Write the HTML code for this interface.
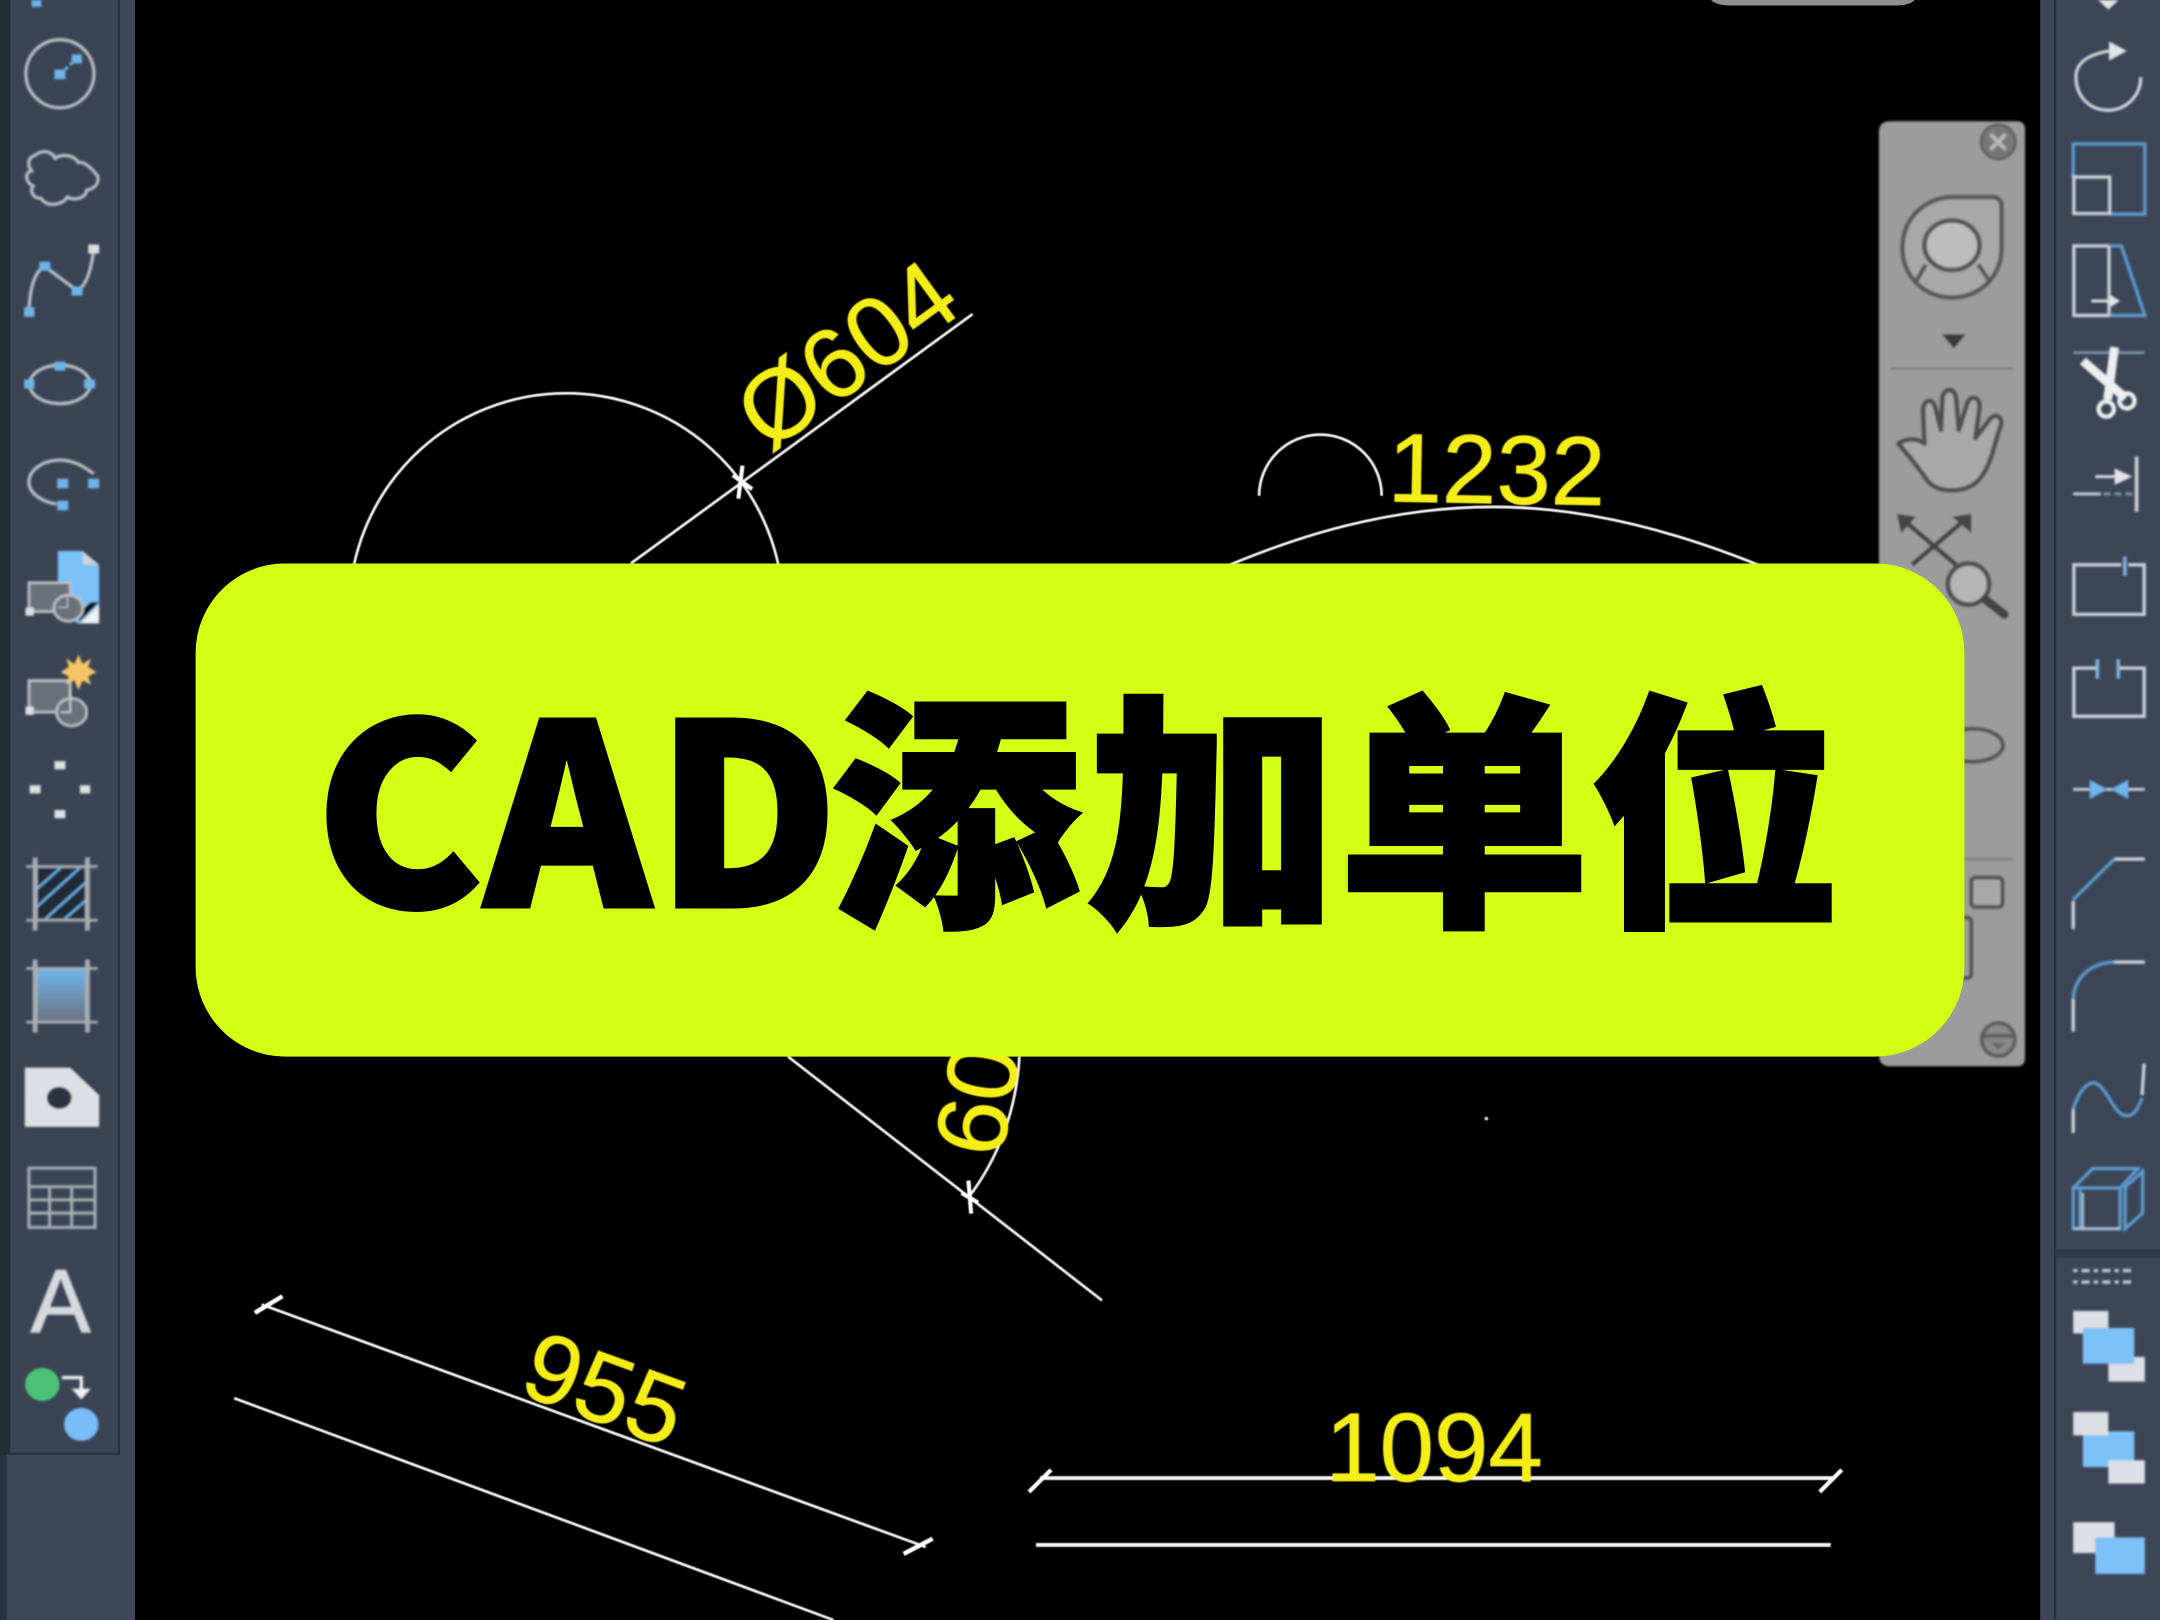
<!DOCTYPE html>
<html lang="zh">
<head>
<meta charset="utf-8">
<title>CAD添加单位</title>
<style>
html,body{margin:0;padding:0;background:#000;width:2160px;height:1620px;overflow:hidden}
svg{display:block;position:absolute;left:0;top:0}
.t{font-family:"Liberation Sans",Arial,sans-serif;font-size:71px;fill:#f4ee12;stroke:#f4ee12;stroke-width:.5}
.w{stroke:#f2f2f2;fill:none;stroke-width:2}
.ic{stroke:#b9bdc3;fill:none;stroke-width:2.4}
.bl{fill:#6eb4ea}
.gr{fill:#dcdfe3}
.lb{fill:#7cc0f8}
.blue{stroke:#5c9bd0;fill:none;stroke-width:2.4}
.wh{stroke:#cfd3d8;fill:none;stroke-width:2.4}
.nv{stroke:#555;fill:none;stroke-width:3}
</style>
</head>
<body>
<svg width="2160" height="1620" viewBox="0 0 1568 1176" xmlns="http://www.w3.org/2000/svg">
<defs>
<linearGradient id="g1" x1="0" y1="0" x2="0" y2="1"><stop offset="0" stop-color="#6eb4ea"/><stop offset="1" stop-color="#6b7280"/></linearGradient>
<filter id="b" x="-5%" y="-5%" width="110%" height="110%"><feGaussianBlur stdDeviation="0.8"/></filter>
<filter id="b2" x="-5%" y="-5%" width="110%" height="110%"><feGaussianBlur stdDeviation="0.45"/></filter>
</defs>
<rect width="1568" height="1176" fill="#000"/>

<!-- left panel -->
<rect x="0" y="0" width="98" height="1176" fill="#3e4859"/>
<rect x="0" y="0" width="7.5" height="1056" fill="#232b35"/>
<rect x="0" y="1056" width="5" height="120" fill="#2a323e"/>
<rect x="7.5" y="0" width="78" height="1055" fill="#3a4454"/>
<rect x="85.5" y="0" width="1.6" height="1056" fill="#27303c"/>
<rect x="7" y="1054.5" width="80" height="1.6" fill="#27303c"/>

<!-- right panel -->
<rect x="1481" y="0" width="87" height="1176" fill="#3c4657"/>
<rect x="1491" y="0" width="1.6" height="1176" fill="#2a3240"/>
<rect x="1492" y="907" width="76" height="6" fill="#2f3846"/>

<!-- top tab -->
<path d="M1242 0H1390Q1386 4 1376 4H1256Q1246 4 1242 0Z" fill="#8f8f8f"/>

<g filter="url(#b)">
<!-- left icons -->
<rect x="23" y="0" width="7" height="5" class="bl"/>
<circle cx="43.5" cy="53.5" r="24.7" class="ic"/>
<path d="M43.5 54L55.6 42.6" stroke="#6eb4ea" stroke-width="2" stroke-dasharray="3 2"/>
<rect x="39.5" y="50.5" width="8" height="7" class="bl"/>
<rect x="52" y="39.5" width="7.5" height="6.500" class="bl"/>
<path class="ic" d="M25 113C31 108 38 110 40 115C46 111 54 113 57 118C62 117 68 124 71 128C72 134 68 137 63 138C62 144 54 146 49 143C44 150 33 150 30 144C25 144 21 140 24 135C18 132 18 125 23 124C19 119 21 114 25 113Z"/>
<path class="ic" d="M21 225C22 208 25 198 32 193L56 211C62 208 66 198 68 181"/>
<rect x="17.5" y="223" width="7.5" height="7" class="bl"/>
<rect x="28.5" y="190" width="8" height="6.5" class="bl"/>
<rect x="52" y="208" width="8" height="6.5" class="bl"/>
<rect x="64" y="177.5" width="8" height="6.5" class="gr"/>
<ellipse cx="43.5" cy="279" rx="22" ry="14" class="ic"/>
<rect x="17.5" y="275.5" width="7.5" height="6.5" class="bl"/>
<rect x="61" y="275.5" width="8" height="6.5" class="bl"/>
<rect x="39.5" y="262.5" width="8" height="6.5" class="bl"/>
<path class="ic" d="M68 344C58 336 50 334 44 334C30 334 21 342 21 350C21 358 30 364 41 366"/>
<rect x="41.5" y="347.5" width="8" height="7" class="bl"/>
<rect x="64" y="347.5" width="8" height="7" class="bl"/>
<rect x="41.5" y="363.5" width="8" height="7" class="bl"/>
<!-- block -->
<path d="M42 400H60L72 411V439L58 452.6H56L42 430Z" fill="#7cc0f8"/>
<path d="M60 400V410H72Z" fill="#c9d4e0"/>
<path d="M72 439L58 452.6H72Z" fill="#eef0f2"/>
<path d="M72 437L58 451L55 447L66 437Z" fill="#0b0d10"/>
<rect x="21" y="423" width="30" height="21" fill="#6c7079" stroke="#b9bdc3" stroke-width="2"/>
<rect x="18.5" y="441" width="6" height="6" class="gr"/>
<ellipse cx="49.6" cy="441.5" rx="10.5" ry="9.5" fill="#6c7079" stroke="#b9bdc3" stroke-width="2"/>
<path d="M49 432V441H42" stroke="#b9bdc3" stroke-width="1" fill="none"/>
<!-- block create -->
<rect x="21" y="494" width="30" height="23" fill="#6c7079" stroke="#b9bdc3" stroke-width="2"/>
<rect x="18.5" y="513" width="6" height="6" class="gr"/>
<ellipse cx="52" cy="517" rx="11" ry="10" fill="#6c7079" stroke="#b9bdc3" stroke-width="2"/>
<path d="M51 500V517H44" stroke="#c8ccd1" stroke-width="1.4" fill="none"/>
<path d="M57 475L60 482L66 478L64 484L70 488L64 491L66 497L60 494L57 501L54 494L48 497L50 491L44 488L50 484L48 478L54 482Z" fill="#f6c465"/>
<!-- point -->
<rect x="39.5" y="552.5" width="8" height="6" class="gr"/>
<rect x="21.5" y="570" width="8" height="6" class="gr"/>
<rect x="58" y="570" width="7.5" height="6" class="gr"/>
<rect x="39.5" y="588" width="8" height="6" class="gr"/>
<!-- hatch -->
<rect x="27" y="630" width="36" height="38" fill="#242c38"/>
<path d="M27 645L44 630M27 658L58 630M33 667L63 640M47 667L63 653" stroke="#6eb4ea" stroke-width="1.6"/>
<path d="M25.5 622.5V675.6M63.5 622.5V675.6" stroke="#a8adb4" stroke-width="3.5"/>
<path d="M19 629H71M19 668H71" stroke="#a8adb4" stroke-width="2"/>
<!-- gradient -->
<rect x="27" y="704" width="36" height="38" fill="url(#g1)"/>
<path d="M25.5 696.5V749.6M63.5 696.5V749.6" stroke="#a8adb4" stroke-width="3.5"/>
<path d="M19 703H71M19 742H71" stroke="#a8adb4" stroke-width="2"/>
<!-- region -->
<path d="M18 775H51L72 795V818H18Z" fill="#dcdfe3"/>
<ellipse cx="43" cy="797" rx="9" ry="8" fill="#2d3340"/>
<!-- table -->
<path d="M21 848H69V891H21ZM21 861.5H69M21 871H69M21 880.6H69M36 861.5V891M52 861.5V891" fill="none" stroke="#a8adb4" stroke-width="2.2"/>
<text x="44" y="967" text-anchor="middle" font-family="'Liberation Sans',sans-serif" font-size="65" fill="#d5d8dc" stroke="#d5d8dc" stroke-width="1">A</text>
<!-- attr -->
<ellipse cx="30.7" cy="1005" rx="12.5" ry="12" fill="#4cc277"/>
<ellipse cx="59" cy="1034" rx="12.5" ry="12" fill="#78bcf8"/>
<path d="M45 1000H59V1010" stroke="#eee" stroke-width="2.4" fill="none"/>
<path d="M52 1008H66L59 1016Z" fill="#eee"/>

<!-- right icons -->
<path d="M1523 0H1538L1530.5 7Z" fill="#e2e4e8"/>
<path class="wh" d="M1554 56C1554 70 1543 80 1530 80C1517 80 1507 70 1507 56C1507 47 1513 40 1531 37" stroke-width="2.6"/>
<path d="M1531 30L1544 37L1531 44Z" fill="#e2e4e8"/>
<path class="blue" d="M1505 129V104.5H1557V155.5H1532"/>
<rect x="1505.5" y="128.5" width="26" height="26.5" class="wh"/>
<path class="wh" d="M1531 178.5H1505.5V229H1531V178.5"/>
<path class="blue" d="M1531.6 178.5H1540L1557 229H1531.6"/>
<path d="M1518 218.5H1534" stroke="#e2e4e8" stroke-width="2"/>
<path d="M1532 214L1539 218.5L1532 223Z" fill="#e2e4e8"/>
<path d="M1505 256H1557" stroke="#7e93a8" stroke-width="2"/>
<path d="M1512 262L1543 289" stroke="#eceef0" stroke-width="6.5"/>
<path d="M1535 252L1530 290" stroke="#eceef0" stroke-width="6.5"/>
<circle cx="1529" cy="297" r="5.5" fill="none" stroke="#eceef0" stroke-width="3.2"/>
<circle cx="1544" cy="291" r="5.5" fill="none" stroke="#eceef0" stroke-width="3.2"/>
<path d="M1551 331.5V371.5" stroke="#cfd3d8" stroke-width="2.6"/>
<path d="M1505 358.5H1525" stroke="#cfd3d8" stroke-width="2"/>
<path d="M1527 358.5H1550" stroke="#7e9cb8" stroke-width="2" stroke-dasharray="5 3"/>
<path d="M1521 346H1538" stroke="#e2e4e8" stroke-width="2"/>
<path d="M1535 340L1548 346L1535 352Z" fill="#e2e4e8"/>
<path class="wh" d="M1540 410H1505.5V446H1556.5V410H1545"/>
<path d="M1542.5 404V418" stroke="#7fb4de" stroke-width="2.6"/>
<path class="wh" d="M1522 485H1505.5V520H1556.5V485H1538"/>
<path d="M1522.5 478.5V492.6M1537.7 478.5V492.6" stroke="#7fb4de" stroke-width="2.6"/>
<path d="M1505 573H1557" stroke="#cfd3d8" stroke-width="2"/>
<path d="M1517 566V580L1530 573ZM1545 566V580L1532 573Z" fill="#6eb4ea"/>
<path class="wh" d="M1505 674.5V654"/><path class="blue" d="M1505 653L1535 623.6"/><path class="wh" d="M1535 623.6H1557"/>
<path class="wh" d="M1505 749V725"/><path class="blue" d="M1505 725C1506 709 1518 699 1535 698.4"/><path class="wh" d="M1535 698.4H1557"/>
<path class="wh" d="M1505 822.5V805"/><path class="blue" d="M1505 805C1509 792 1515 786 1520 786C1530 788 1534 810 1544 810C1550 810 1553 802 1555 797"/><path class="wh" d="M1555 795L1556.5 772"/>
<path class="blue" d="M1505 862.4L1519 848.3H1552L1539 862.4H1505V892H1539V862.4M1542.6 862L1555.4 850.3V880.6L1542.6 892ZM1510 862.4V892" stroke-width="2.8"/>
<path d="M1505 892H1539M1512 892V866" stroke="#b8c4d0" stroke-width="1.6"/>
<path d="M1505 922.4H1547M1505 930.7H1547" stroke="#c8ccd1" stroke-width="2.4" stroke-dasharray="3 3 6 3"/>
<rect x="1505" y="951.6" width="25.5" height="16.4" class="gr"/>
<rect x="1530.5" y="985" width="26.5" height="18" class="gr"/>
<rect x="1512" y="964" width="37.3" height="26" class="lb"/>
<rect x="1512" y="1039" width="37.3" height="26" class="lb"/>
<rect x="1505" y="1025" width="25.5" height="17" class="gr"/>
<rect x="1530.5" y="1060" width="26.5" height="17" class="gr"/>
<rect x="1505" y="1105" width="30" height="22.4" class="gr"/>
<rect x="1521" y="1116" width="36" height="26.6" class="lb"/>

<!-- nav panel -->
<path d="M1372 88H1464Q1470 88 1470 94V768Q1470 774 1464 774H1372Q1364 774 1364 766V96Q1364 88 1372 88Z" fill="#9c9c9c"/>
<circle cx="1450.6" cy="103" r="12.5" fill="#777" stroke="#5f5f5f" stroke-width="2"/>
<path d="M1445 97.5L1456 108.5M1456 97.5L1445 108.5" stroke="#b8b8b8" stroke-width="3"/>
<path d="M1381 180C1381 158 1398 143 1418 143H1446Q1453 143 1453 150V180C1453 201 1437 216 1417 216C1397 216 1381 201 1381 180Z" fill="#a8a8a8" stroke="#5a5a5a" stroke-width="3.4"/>
<ellipse cx="1417" cy="178" rx="20" ry="18" fill="#bcbcbc" stroke="#555" stroke-width="3.4"/>
<path d="M1398 192L1390 206M1436 192L1445 205" class="nv" stroke-width="2.4"/>
<path d="M1409.5 242.6H1427L1418.4 253Z" fill="#3a3a3a"/>
<path d="M1372 267.5H1461.5" stroke="#777" stroke-width="1.4"/>
<path d="M1378 322C1384 318 1392 318 1397 322L1396 298C1396 290 1403 288 1405 296L1409 312L1410 289C1411 281 1419 281 1420 289L1422 312L1428 293C1430 286 1438 288 1437 296L1434 318L1444 305C1449 298 1455 304 1452 310C1447 325 1445 340 1435 350C1425 358 1408 358 1400 350C1393 340 1385 330 1378 322Z" fill="#a8a8a8" stroke="#4f4f4f" stroke-width="3.4" stroke-linejoin="round"/>
<path d="M1380 376L1420 410M1428 376L1388 410" stroke="#444" stroke-width="3.4"/>
<path d="M1377 373L1391 375L1380 387ZM1431 373L1431 387L1417 375Z" fill="#444"/>
<circle cx="1429" cy="424" r="15" fill="#b4b4b4" stroke="#4f4f4f" stroke-width="3.4"/>
<path d="M1441 435L1455 446" stroke="#444" stroke-width="6.5" stroke-linecap="round"/>
<ellipse cx="1432" cy="541" rx="22" ry="12" class="nv"/>
<path d="M1372 623.6H1461.5" stroke="#777" stroke-width="1.4"/>
<rect x="1431" y="637" width="22.7" height="21.5" rx="3" fill="#a8a8a8" stroke="#555" stroke-width="3"/>
<rect x="1405" y="666" width="26" height="44" rx="3" fill="none" stroke="#555" stroke-width="3"/>
<circle cx="1450.6" cy="754.6" r="12" fill="#8a8a8a" stroke="#5f5f5f" stroke-width="3"/>
<path d="M1440 752H1461" stroke="#5f5f5f" stroke-width="3"/>
<path d="M1445 757H1456L1450.5 762Z" fill="#666"/>
</g>

<g filter="url(#b2)">
<!-- drawing -->
<circle cx="411" cy="443" r="157.5" class="w"/>
<path class="w" d="M706 228L458 409"/>
<path d="M539 338L536 362M532 345L546 355" stroke="#fff" stroke-width="3" fill="none"/>
<text class="t" style="font-size:72px" transform="translate(558 329) rotate(-36)">Ø604</text>
<path class="w" d="M914 360A44.500 44.500 0 0 1 1003 360"/>
<text class="t" transform="translate(1007 364) rotate(1)">1232</text>
<path class="w" d="M870 420C940 388 1010 368 1084 368C1150 368 1220 385 1300 420"/>
<path class="w" d="M572 767L800 944"/>
<path class="w" d="M740 767C738 805 725 840 704 868"/>
<path d="M703 857L705 881M698 866L710 873" stroke="#fff" stroke-width="3" fill="none"/>
<text class="t" style="font-size:72px" transform="translate(727 842) rotate(-80)">604</text>
<path class="w" d="M190 947L672 1123" stroke-width="2.2"/>
<path class="w" d="M170 1015L605 1176" stroke-width="2.2"/>
<path d="M185 953L205 941M656 1128L677 1117" stroke="#fff" stroke-width="3.2"/>
<text class="t" transform="translate(375 1011) rotate(20)">955</text>
<path d="M755 1073H1330M752 1121.500H1329" stroke="#f2f2f2" stroke-width="2.8"/>
<path d="M747 1083L763 1067M1321 1083L1337 1067" stroke="#fff" stroke-width="3"/>
<text class="t" x="962" y="1075">1094</text>
<circle cx="1079" cy="812" r="1.300" fill="#ddd"/>
</g>

<!-- banner -->
<rect x="142" y="409" width="1284" height="358" rx="65" ry="65" fill="#d3ff14"/>
<text x="229 352 476 603 789 972 1154" y="658" font-family="'Noto Sans CJK SC','Liberation Sans',sans-serif" font-weight="900" font-size="182" fill="#000" stroke="#000" stroke-width="3">CAD添加单位</text>
</svg>
</body>
</html>
